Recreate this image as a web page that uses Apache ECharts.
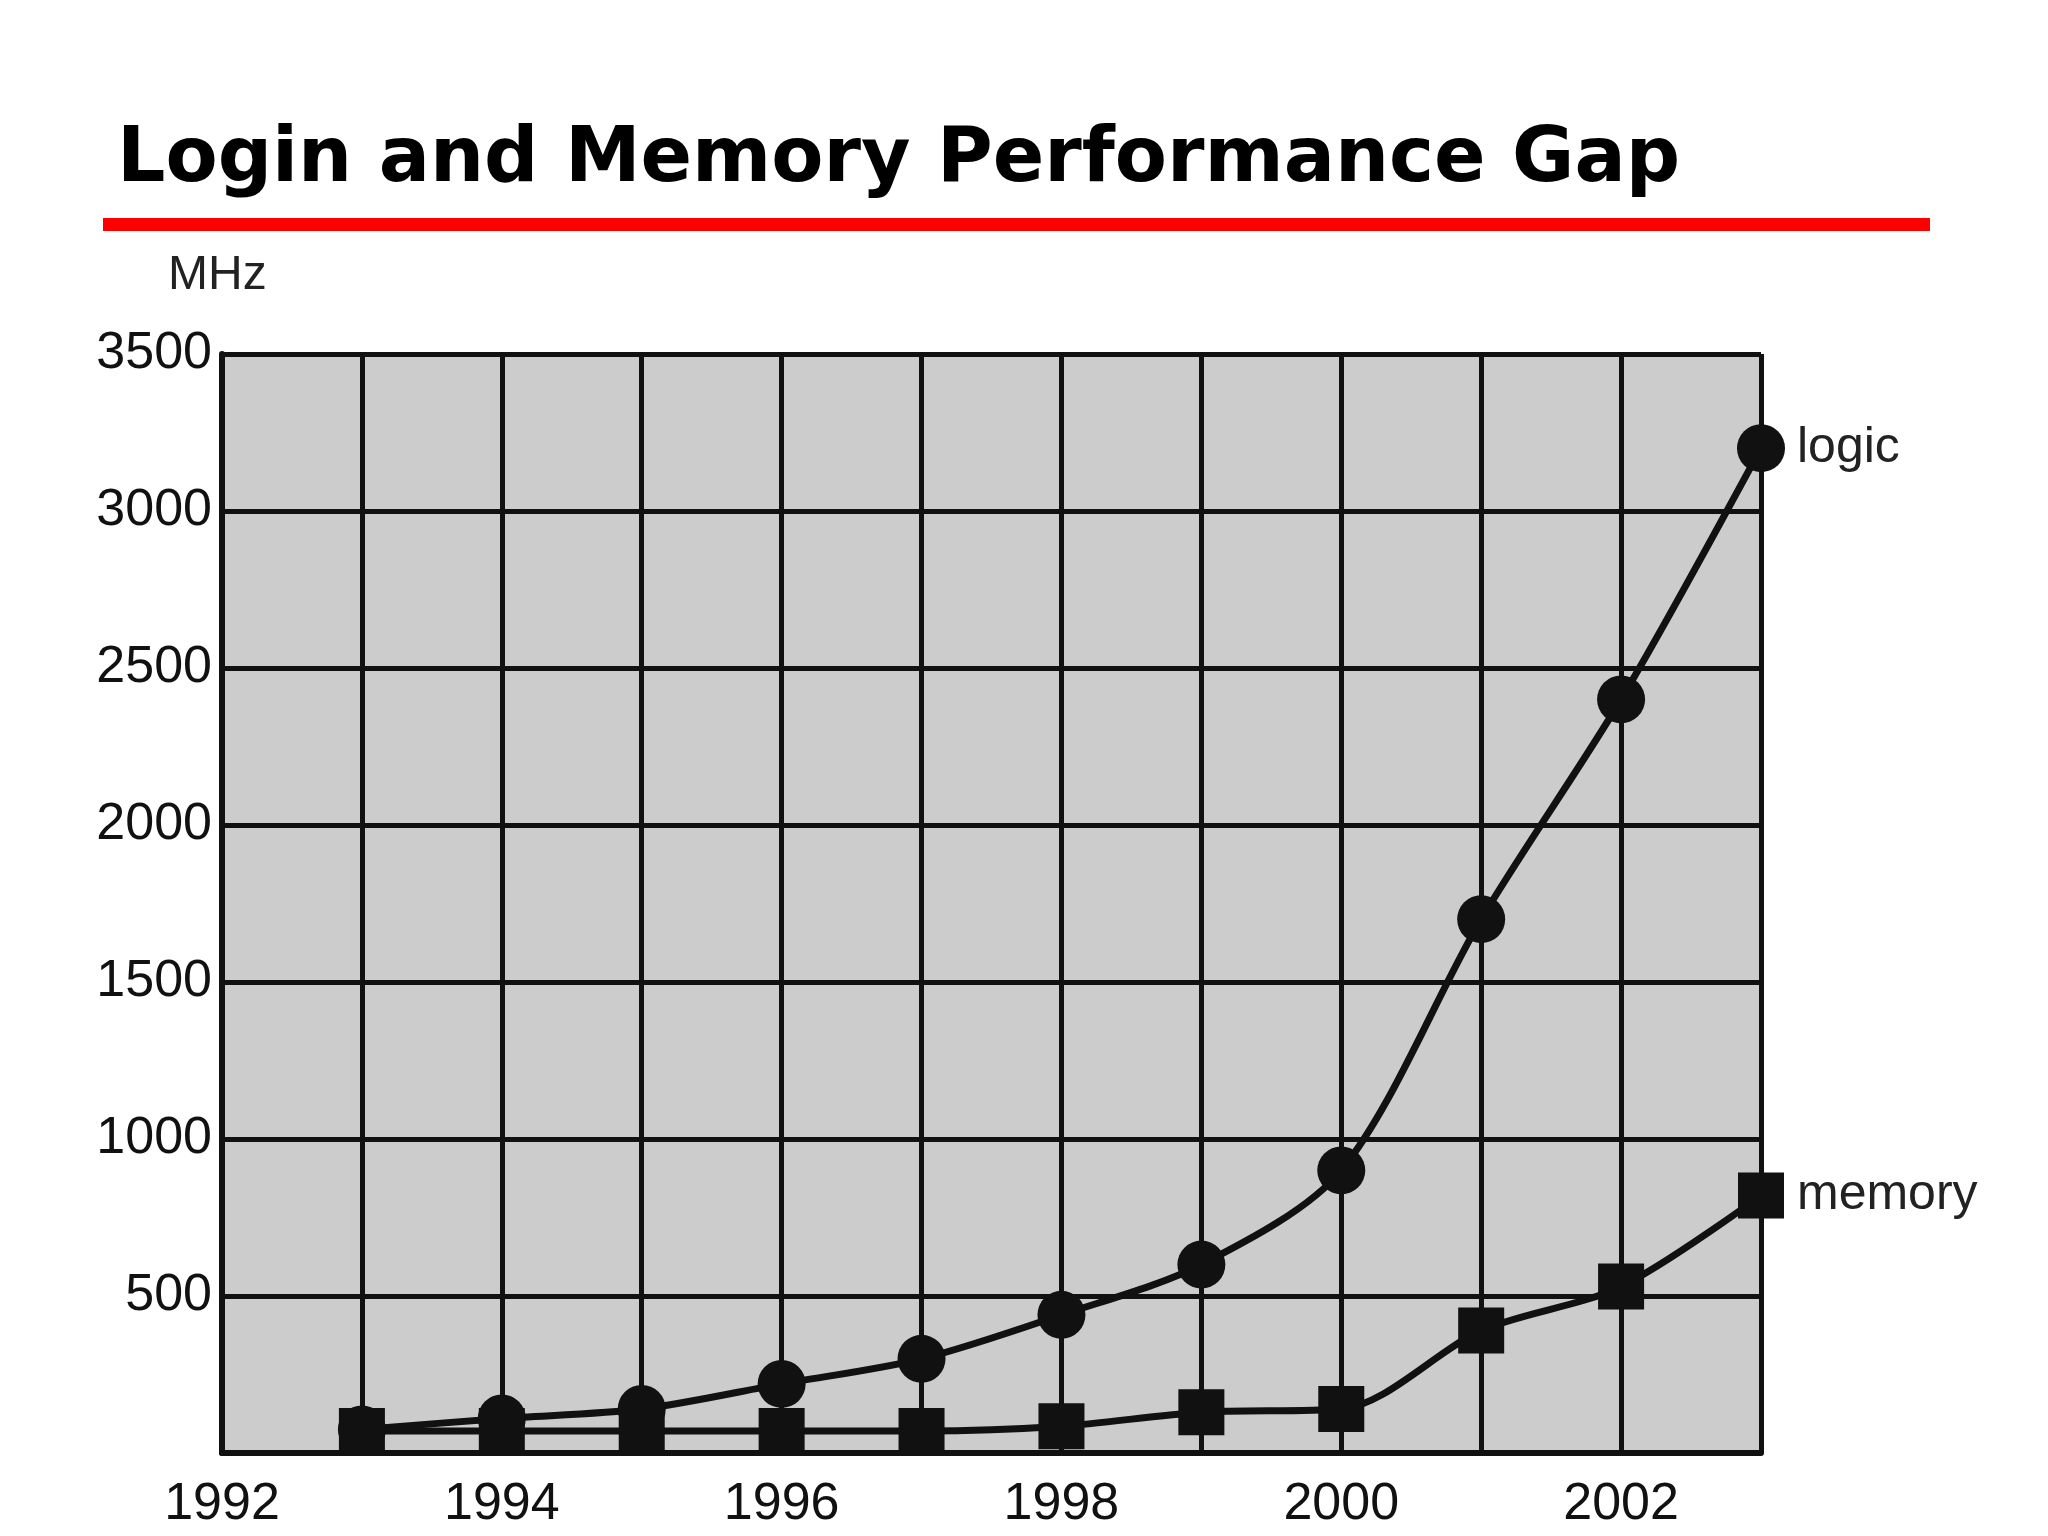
<!DOCTYPE html>
<html>
<head>
<meta charset="utf-8">
<script src="https://cdn.jsdelivr.net/npm/echarts@6/dist/echarts.min.js"></script>
<style>html,body{margin:0;background:#fff}#chart{width:2048px;height:1536px}</style>
</head>
<body>
<div id="chart"></div>
<script>
var years = [1993, 1994, 1995, 1996, 1997, 1998, 1999, 2000, 2001, 2002, 2003];
var logic = [75, 110, 140, 220, 300, 440, 600, 900, 1700, 2400, 3200];
var memory = [70, 70, 70, 70, 70, 85, 130, 140, 390, 530, 820];

function pairs(v) { return years.map(function (y, i) { return [y, v[i]]; }); }

var chart = echarts.init(document.getElementById('chart'));
var font = 'Liberation Sans, Arial, sans-serif';
chart.setOption({
    animation: false,
    backgroundColor: '#fff',
    title: {
        text: 'Login and Memory Performance Gap',
        left: 112, top: 118,
        textStyle: { fontFamily: 'DejaVu Sans', fontSize: 76, fontWeight: 'bold', color: '#000' }
    },
    graphic: [
        { type: 'rect', shape: { x: 103, y: 218, width: 1827, height: 13 }, style: { fill: '#ff0000' } },
        { type: 'text', left: 168, top: 252, style: { text: 'MHz', font: '48px ' + font, fill: '#222' } }
    ],
    grid: { left: 222, right: 287, top: 354, bottom: 83, show: true, backgroundColor: '#cccccc', borderWidth: 0 },
    xAxis: {
        type: 'value', min: 1992, max: 2003, interval: 1,
        axisLine: { show: true, lineStyle: { color: '#111', width: 6 } },
        axisTick: { show: false },
        splitLine: { show: true, lineStyle: { color: '#111', width: 5 } },
        axisLabel: {
            margin: 26, fontSize: 52, fontFamily: font, color: '#111',
            formatter: function (v) { return (v % 2 === 0 && v < 2003) ? String(v) : ''; }
        }
    },
    yAxis: {
        type: 'value', min: 0, max: 3500, interval: 500,
        axisLine: { show: true, lineStyle: { color: '#111', width: 6 } },
        axisTick: { show: false },
        splitLine: { show: true, lineStyle: { color: '#111', width: 5 } },
        axisLabel: {
            margin: 10, fontSize: 52, fontFamily: font, color: '#111',
            formatter: function (v) { return v === 0 ? '' : String(v); }
        }
    },
    series: [
        {
            name: 'logic', type: 'line', smooth: 0.3, data: pairs(logic),
            symbol: 'circle', symbolSize: 48,
            lineStyle: { color: '#111', width: 7 }, itemStyle: { color: '#111' },
            endLabel: { show: true, formatter: 'logic', fontSize: 50, fontFamily: font, color: '#222', distance: 36 }
        },
        {
            name: 'memory', type: 'line', smooth: 0.3, data: pairs(memory),
            symbol: 'rect', symbolSize: 46,
            lineStyle: { color: '#111', width: 7 }, itemStyle: { color: '#111' },
            endLabel: { show: true, formatter: 'memory', fontSize: 50, fontFamily: font, color: '#222', distance: 36 }
        }
    ]
});
</script>
</body>
</html>
